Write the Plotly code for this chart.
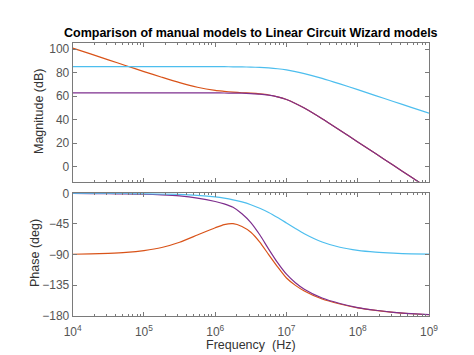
import plotly.graph_objects as go

# log10 of frequency (Hz) sample points
logf = [4.0, 4.25, 4.5, 4.75, 5.0, 5.25, 5.5, 5.75, 6.0, 6.125, 6.25, 6.375, 6.5,
        6.625, 6.75, 6.875, 7.0, 7.125, 7.25, 7.5, 7.75, 8.0, 8.25, 8.5, 8.75, 9.0]
freq = [10 ** v for v in logf]

# Magnitude (dB)
mag_orange = [100.8, 95.8, 90.8, 85.8, 80.8, 76.0, 71.4, 67.5, 64.8, 64.0, 63.3, 62.8, 62.4,
              61.8, 60.9, 59.3, 57.0, 53.7, 49.8, 40.7, 30.9, 21.0, 11.1, 1.1, -8.9, -18.9]
mag_purple = [62.7, 62.7, 62.7, 62.7, 62.7, 62.7, 62.7, 62.7, 62.65, 62.6, 62.5, 62.4, 62.1,
              61.7, 60.8, 59.3, 57.0, 53.7, 49.8, 40.7, 30.9, 21.0, 11.1, 1.1, -8.9, -18.9]
mag_cyan = [85.0, 85.0, 85.0, 85.0, 85.0, 85.0, 85.0, 85.0, 84.96, 84.93, 84.88, 84.78, 84.62,
            84.35, 83.91, 83.2, 82.2, 80.8, 79.1, 75.0, 70.3, 65.4, 60.4, 55.4, 50.4, 45.4]

# Phase (deg)
ph_orange = [-89.6, -89.1, -88.3, -86.9, -84.2, -79.7, -72.0, -61.4, -50.7, -46.0, -44.6, -48.7, -57.2,
             -71.7, -90.1, -108.1, -124.6, -135.4, -143.6, -155.5, -162.8, -168.5, -172.3, -175.1, -177.1, -178.6]
ph_purple = [-0.3, -0.4, -0.6, -0.9, -1.4, -2.3, -3.9, -7.0, -12.0, -15.5, -20.5, -30.0, -43.0,
             -61.0, -82.0, -102.0, -119.0, -131.5, -141.0, -154.0, -162.0, -168.0, -172.0, -175.0, -177.0, -178.5]
ph_cyan = [-0.05, -0.1, -0.17, -0.3, -0.55, -1.0, -1.7, -3.1, -5.4, -7.2, -9.6, -12.7, -16.8,
           -22.0, -28.2, -35.6, -43.6, -51.7, -59.4, -71.6, -79.4, -84.0, -86.6, -88.1, -89.0, -89.4]

xticks = [1e4, 1e5, 1e6, 1e7, 1e8, 1e9]
xticktext = ["10<sup>4</sup>", "10<sup>5</sup>", "10<sup>6</sup>", "10<sup>7</sup>", "10<sup>8</sup>", "10<sup>9</sup>"]
mag_ticks = [0, 20, 40, 60, 80, 100]
ph_ticks = [0, -45, -90, -135, -180]

TITLE = "Comparison of manual models to Linear Circuit Wizard models"

ORANGE = "#D95319"
PURPLE = "#7E2F8E"
CYAN = "#4DBEEE"

W, H = 474, 355
fig = go.Figure()

def add(x, y, color, xa, ya):
    fig.add_trace(go.Scatter(x=x, y=y, mode="lines", xaxis=xa, yaxis=ya,
                             line=dict(color=color, width=1.2, shape="spline", smoothing=0.6),
                             showlegend=False, hoverinfo="skip"))

add(freq, mag_orange, ORANGE, "x", "y")
add(freq, mag_purple, PURPLE, "x", "y")
add(freq, mag_cyan, CYAN, "x", "y")
add(freq, ph_orange, ORANGE, "x2", "y2")
add(freq, ph_purple, PURPLE, "x2", "y2")
add(freq, ph_cyan, CYAN, "x2", "y2")

minor_vals = [m * 10 ** k for k in range(4, 9) for m in range(2, 10)]
axcol = "#7a7a7a"
tickfont = dict(family="Liberation Sans, Arial, sans-serif", size=12, color="#555555")

xdom = [72.7 / W, 429.0 / W]
common_x = dict(type="log", range=[4, 9], domain=xdom, tickvals=xticks, ticktext=xticktext,
                ticks="inside", ticklen=4, tickcolor=axcol, showline=True, linecolor=axcol,
                linewidth=1, mirror="ticks", showgrid=False, zeroline=False, tickfont=tickfont,
                automargin=False,
                minor=dict(tickvals=minor_vals, ticks="inside", ticklen=2, tickcolor=axcol, showgrid=False))
common_y = dict(ticks="inside", ticklen=4, tickcolor=axcol, showline=True, linecolor=axcol,
                linewidth=1, mirror="ticks", showgrid=False, zeroline=False, tickfont=tickfont,
                automargin=False)

fig.update_layout(
    width=W, height=H,
    margin=dict(l=0, r=0, t=0, b=0, pad=0, autoexpand=False),
    paper_bgcolor="white", plot_bgcolor="white",
    hovermode=False,
    xaxis=dict(common_x, anchor="y", showticklabels=False),
    yaxis=dict(common_y, domain=[1 - 182.0 / H, 1 - 43.0 / H], range=[-13.1, 105.1],
               tickvals=mag_ticks, anchor="x"),
    xaxis2=dict(common_x, anchor="y2", showticklabels=True, ticklabelstandoff=5),
    yaxis2=dict(common_y, domain=[1 - 315.7 / H, 1 - 193.3 / H], range=[-180, 0],
                tickvals=ph_ticks, anchor="x2"),
    font=dict(family="Liberation Sans, Arial, sans-serif"),
    annotations=[
        dict(text="<b>" + TITLE + "</b>", x=250.9 / W, y=1 - 33.3 / H, xref="paper", yref="paper",
             showarrow=False, font=dict(size=12.5, color="black"), xanchor="center", yanchor="middle"),
        dict(text="Magnitude (dB)", x=39 / W, y=1 - 112 / H, xref="paper", yref="paper",
             showarrow=False, textangle=-90, font=dict(size=12.5, color="#333333"),
             xanchor="center", yanchor="middle"),
        dict(text="Phase (deg)", x=35 / W, y=1 - 253 / H, xref="paper", yref="paper",
             showarrow=False, textangle=-90, font=dict(size=12.5, color="#333333"),
             xanchor="center", yanchor="middle"),
        dict(text="Frequency\u00a0\u00a0(Hz)", x=250.9 / W, y=1 - 345 / H, xref="paper", yref="paper",
             showarrow=False, font=dict(size=12.5, color="#333333"), xanchor="center", yanchor="middle"),
    ],
)

fig.write_html("out.html", config={"displayModeBar": False, "staticPlot": True},
               post_script="document.body.style.margin='0';document.body.style.padding='0';")
